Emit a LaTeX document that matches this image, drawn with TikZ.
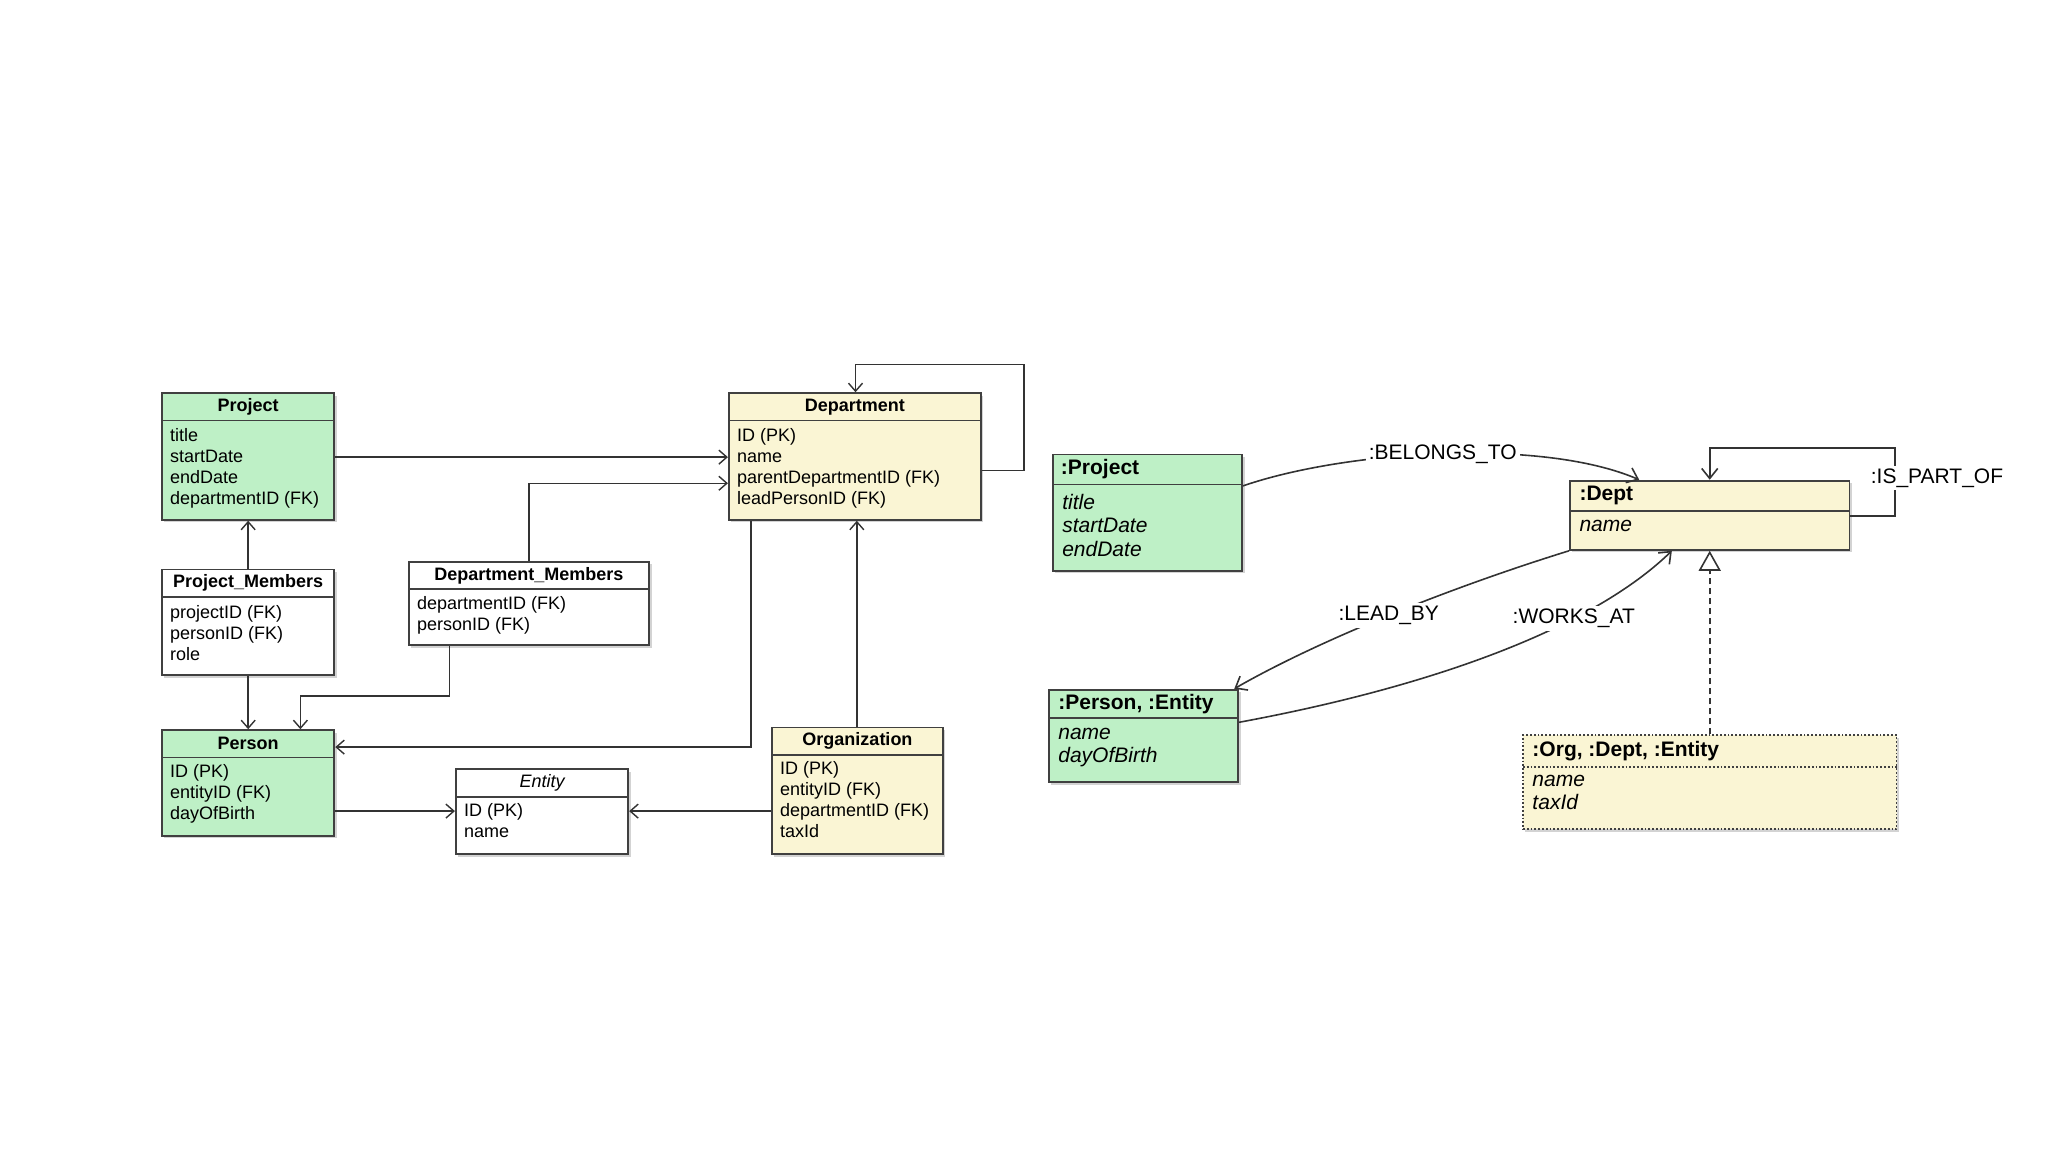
\documentclass[tikz,border=0pt]{standalone}
\usepackage{fontspec}
\setmainfont{Liberation Sans}
\usetikzlibrary{arrows.meta,fit,shadows}
\definecolor{grn}{RGB}{190,240,198}
\definecolor{ylw}{RGB}{250,245,212}
\begin{document}
\begin{tikzpicture}[x=0.653pt,y=-0.653pt,
  box/.style={draw=black!75,line width=0.9pt,inner sep=0pt,drop shadow={shadow xshift=1.2pt,shadow yshift=-1.2pt,opacity=0.35}},
  ttl/.style={font=\fontsize{9}{10.5}\selectfont\bfseries,inner sep=0pt},
  rws/.style={font=\fontsize{9}{10.5}\selectfont,align=left,anchor=north west,inner sep=0pt},
  rttl/.style={font=\fontsize{10.5}{12}\selectfont\bfseries,inner sep=0pt,anchor=west},
  rrws/.style={font=\fontsize{10.5}{11.8}\selectfont\itshape,align=left,anchor=north west,inner sep=0pt},
  sep/.style={draw=black!75,line width=0.9pt},
  con/.style={draw=black!80,line width=0.7pt,-{Straight Barb[length=4pt,width=7pt]}},
  rcon/.style={draw=black!80,line width=0.8pt,-{Straight Barb[length=5pt,width=8pt]}},
  lbl/.style={font=\fontsize{10.5}{12}\selectfont,fill=white,inner sep=1.5pt}]
\useasboundingbox (0,0) rectangle (1568,882);
% ---------- left ----------
\node[box,fill=grn,fit={(124,301)(256,398)}] (proj) {};
\draw[sep] (124,322)--(256,322);
\node[ttl] at (190,311.5) {Project};
\node[rws] at (130,328) {title\\startDate\\endDate\\departmentID (FK)};

\node[box,fill=ylw,fit={(558,301)(751,398)}] (dept) {};
\draw[sep] (558,322)--(751,322);
\node[ttl] at (654.5,311.5) {Department};
\node[rws] at (564,328) {ID (PK)\\name\\parentDepartmentID (FK)\\leadPersonID (FK)};

\node[box,fill=white,fit={(124,436)(256,517)}] (pm) {};
\draw[sep] (124,457)--(256,457);
\node[ttl] at (190,446.5) {Project\_Members};
\node[rws] at (130,463) {projectID (FK)\\personID (FK)\\role};

\node[box,fill=white,fit={(313,430)(497,494)}] (dm) {};
\draw[sep] (313,451)--(497,451);
\node[ttl] at (405,440.5) {Department\_Members};
\node[rws] at (319,456) {departmentID (FK)\\personID (FK)};

\node[box,fill=grn,fit={(124,559)(256,640)}] (pers) {};
\draw[sep] (124,580)--(256,580);
\node[ttl] at (190,569.5) {Person};
\node[rws] at (130,585) {ID (PK)\\entityID (FK)\\dayOfBirth};

\node[box,fill=white,fit={(349,589)(481,654)}] (ent) {};
\draw[sep] (349,610)--(481,610);
\node[ttl,font=\fontsize{9}{10.5}\selectfont\itshape] at (415,599.5) {Entity};
\node[rws] at (355,615) {ID (PK)\\name};

\node[box,fill=ylw,fit={(591,557)(722,654)}] (org) {};
\draw[sep] (591,578)--(722,578);
\node[ttl] at (656.5,567.5) {Organization};
\node[rws] at (597,583) {ID (PK)\\entityID (FK)\\departmentID (FK)\\taxId};

\draw[con] (proj.east |- 0,350) -- (dept.west |- 0,350);
\draw[con] (dm.north -| 405,0) -- (405,370) -- (dept.west |- 0,370);
\draw[con] (dept.east |- 0,360) -- (784,360) -- (784,279) -- (655,279) -- (dept.north -| 655,0);
\draw[con] (pm.north) -- (proj.south);
\draw[con] (pm.south) -- (pers.north);
\draw[con] (dm.south -| 344,0) -- (344,533) -- (230,533) -- (pers.north -| 230,0);
\draw[con] (dept.south -| 575,0) -- (575,572) -- (pers.east |- 0,572);
\draw[con] (org.north -| 656,0) -- (dept.south -| 656,0);
\draw[con] (pers.east |- 0,621) -- (ent.west |- 0,621);
\draw[con] (org.west |- 0,621) -- (ent.east |- 0,621);
% ---------- right ----------
\node[box,fill=grn,fit={(806,348)(951,437)}] (rproj) {};
\draw[sep] (806,371)--(951,371);
\node[rttl] at (812,359.5) {:Project};
\node[rrws] at (813,378) {title\\startDate\\endDate};

\node[box,fill=ylw,fit={(1202,368)(1416,421)}] (rdept) {};
\draw[sep] (1202,391)--(1416,391);
\node[rttl] at (1209,379.5) {:Dept};
\node[rrws] at (1209,398) {name};

\node[box,fill=grn,fit={(803,528)(948,599)}] (rpers) {};
\draw[sep] (803,550)--(948,550);
\node[rttl] at (810,539) {:Person, :Entity};
\node[rrws] at (810,557) {name\\dayOfBirth};

\node[box,fill=ylw,densely dotted,fit={(1166,563)(1452,635)}] (rorg) {};
\draw[sep,densely dotted] (1166,587)--(1452,587);
\node[rttl] at (1173,575) {:Org, :Dept, :Entity};
\node[rrws] at (1173,593) {name\\taxId};

\draw[rcon] (rproj.east |- 0,372) .. controls (1030,345) and (1180,335) .. (rdept.north -| 1255,0)
  node[lbl,pos=0.5] {:BELONGS\_TO};
\draw[rcon] (rdept.east |- 0,395) -- (1451,395) -- (1451,343) -- (1309,343) -- (rdept.north -| 1309,0);
\node[lbl] at (1483,366) {:IS\_PART\_OF};
\draw[rcon] (rdept.south west) .. controls (1110,450) and (1010,490) .. (rpers.north -| 945,0)
  node[lbl,pos=0.5] {:LEAD\_BY};
\draw[rcon] (rpers.east |- 0,553) .. controls (1100,525) and (1220,480) .. (rdept.south -| 1280,0)
  node[lbl,pos=0.68] {:WORKS\_AT};
\draw[draw=black!80,line width=0.8pt,densely dashed,-{Triangle[open,length=10pt,width=11pt]}] (rorg.north -| 1309,0) -- (rdept.south -| 1309,0);
\end{tikzpicture}
\end{document}
